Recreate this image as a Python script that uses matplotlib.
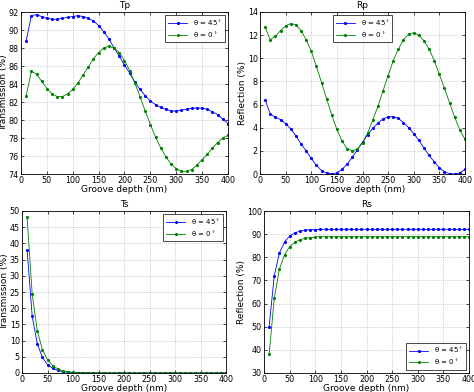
import numpy as np
import matplotlib
matplotlib.use('Agg')
import matplotlib.pyplot as plt

depth = np.arange(10, 401, 10)

tp_45 = [88.8, 91.6, 91.7, 91.5, 91.3, 91.2, 91.2, 91.3, 91.4, 91.5,
         91.6, 91.5, 91.3, 91.0, 90.5, 89.8, 89.0, 88.0, 87.1, 86.1,
         85.2, 84.2, 83.4, 82.7, 82.1, 81.7, 81.4, 81.2, 81.0, 81.0,
         81.1, 81.2, 81.3, 81.35, 81.3, 81.2, 80.9, 80.6, 80.1, 79.6]
tp_0 = [82.7, 85.4, 85.1, 84.3, 83.5, 82.9, 82.6, 82.6, 82.9, 83.4,
        84.1, 85.0, 85.9, 86.8, 87.5, 88.0, 88.2, 88.0, 87.5, 86.6,
        85.5, 84.1, 82.6, 81.0, 79.5, 78.1, 76.9, 75.9, 75.1, 74.6,
        74.3, 74.3, 74.5, 75.0, 75.6, 76.2, 76.9, 77.5, 78.0, 78.3]

rp_45 = [6.4, 5.2, 4.9, 4.7, 4.35, 3.9, 3.3, 2.6, 2.0, 1.35,
         0.75, 0.3, 0.08, 0.02, 0.1, 0.4, 0.85, 1.45, 2.1, 2.75,
         3.4, 3.95, 4.4, 4.75, 4.95, 4.95, 4.8, 4.45, 4.0, 3.5,
         2.9, 2.25, 1.6, 1.05, 0.55, 0.2, 0.02, 0.0, 0.1, 0.4]
rp_0 = [12.7, 11.6, 11.9, 12.4, 12.8, 13.0, 12.9, 12.4, 11.6, 10.6,
        9.3, 7.9, 6.5, 5.1, 3.85, 2.85, 2.2, 2.0, 2.15, 2.7,
        3.55, 4.65, 5.85, 7.2, 8.5, 9.8, 10.8, 11.6, 12.1, 12.2,
        12.0, 11.5, 10.8, 9.8, 8.6, 7.4, 6.15, 4.9, 3.8, 3.0]

ts_45 = [38.0, 17.5, 9.0, 4.8, 2.6, 1.5, 0.8, 0.4, 0.2, 0.1] + [0.05] * 5 + [0.02] * 25
ts_0 = [48.0, 24.3, 13.0, 7.2, 4.1, 2.3, 1.3, 0.7, 0.4, 0.2, 0.1] + [0.05] * 4 + [0.02] * 25

rs_45 = [50.0, 72.0, 81.8, 86.6, 89.2, 90.5, 91.3, 91.7, 91.9, 92.0] + [92.1] * 30
rs_0 = [38.0, 62.3, 74.8, 81.1, 84.6, 86.5, 87.6, 88.2, 88.5, 88.7] + [88.9] * 30

labels = [r'$\mathrm{\theta}$ = 45$^\circ$', r'$\mathrm{\theta}$ = 0$^\circ$']

fig = plt.figure(figsize=(4.74, 3.92), dpi=100)

W, H = 474.0, 392.0
def add_ax(l, r, t, b):
    return fig.add_axes([l / W, 1 - b / H, (r - l) / W, (b - t) / H])

panels = [
    (add_ax(21, 228, 12, 174), 'Tp', tp_45, tp_0, (74, 92), 2, 'Transmission (%)', 'upper right'),
    (add_ax(260, 465, 12, 174), 'Rp', rp_45, rp_0, (0, 14), 2, 'Reflection (%)', 'upper center'),
    (add_ax(22, 226, 211, 373), 'Ts', ts_45, ts_0, (0, 50), 5, 'Transmission (%)', 'upper right'),
    (add_ax(264, 469, 211, 373), 'Rs', rs_45, rs_0, (30, 100), 10, 'Reflection (%)', 'lower right'),
]

for ax, title, y45, y0, ylim, step, ylabel, loc in panels:
    ax.plot(depth, y45, '-', color='blue', marker='.', markersize=2.5, lw=0.6, label=labels[0])
    ax.plot(depth, y0, '-', color='green', marker='.', markersize=2.5, lw=0.6, label=labels[1])
    ax.set_xlim(0, 400)
    ax.set_ylim(*ylim)
    ax.set_xticks(np.arange(0, 401, 50))
    ax.set_yticks(np.arange(ylim[0], ylim[1] + 0.1, step))
    ax.grid(True, ls=':', color='#aaaaaa', lw=0.5)
    ax.tick_params(direction='in', top=True, right=True, length=2.5, width=0.5, pad=1.5, labelsize=5.8)
    for s in ax.spines.values():
        s.set_linewidth(0.6)
    ax.set_title(title, fontsize=6.5, pad=3)
    ax.set_xlabel('Groove depth (nm)', fontsize=6.5, labelpad=0)
    ax.set_ylabel(ylabel, fontsize=6.5, labelpad=0.5)
    leg = ax.legend(loc=loc, fontsize=5, fancybox=False, edgecolor='black',
                    framealpha=1, handlelength=2.8, borderpad=0.4, labelspacing=0.3)
    leg.get_frame().set_linewidth(0.5)

fig.savefig('out.png', dpi=100)
